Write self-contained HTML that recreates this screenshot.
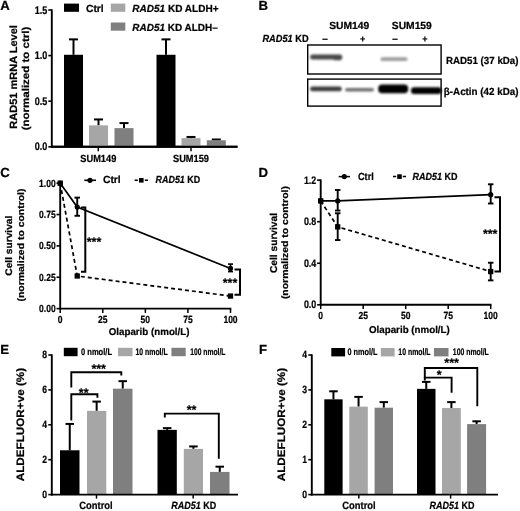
<!DOCTYPE html>
<html lang="en">
<head>
<meta charset="utf-8">
<title>Figure</title>
<style>
html,body{margin:0;padding:0;background:#fff;}
body{width:520px;height:511px;overflow:hidden;}
svg{display:block;}
svg text{font-family:"Liberation Sans", Arial, sans-serif;font-weight:bold;fill:#000;stroke:#000;stroke-width:0.22px;text-rendering:geometricPrecision;}
</style>
</head>
<body>
<svg width="520" height="511" viewBox="0 0 520 511">
<defs><filter id="blur" x="-10%" y="-50%" width="120%" height="200%"><feGaussianBlur stdDeviation="1.0 1.0"/></filter></defs>
<rect x="0" y="0" width="520" height="511" fill="#fff"/>
<text x="0.2" y="9.6" font-size="13.2">A</text>
<text x="258.5" y="9.8" font-size="13.2">B</text>
<text x="0.3" y="176.6" font-size="13.2">C</text>
<text x="258.6" y="176.5" font-size="13.2">D</text>
<text x="0.2" y="353.9" font-size="13.2">E</text>
<text x="258.9" y="353.9" font-size="13.2">F</text>
<line x1="51.8" y1="9.3" x2="51.8" y2="147.75" stroke="#000" stroke-width="1.9"/>
<line x1="51.0" y1="146.8" x2="237.5" y2="146.8" stroke="#000" stroke-width="1.9"/>
<line x1="48.3" y1="10.0" x2="51.8" y2="10.0" stroke="#000" stroke-width="1.6"/>
<text x="0" y="0" transform="translate(47.199999999999996 13.5) scale(0.82 1)" font-size="11.0" text-anchor="end">1.5</text>
<line x1="48.3" y1="55.60000000000001" x2="51.8" y2="55.60000000000001" stroke="#000" stroke-width="1.6"/>
<text x="0" y="0" transform="translate(47.199999999999996 59.10000000000001) scale(0.82 1)" font-size="11.0" text-anchor="end">1.0</text>
<line x1="48.3" y1="101.20000000000002" x2="51.8" y2="101.20000000000002" stroke="#000" stroke-width="1.6"/>
<text x="0" y="0" transform="translate(47.199999999999996 104.70000000000002) scale(0.82 1)" font-size="11.0" text-anchor="end">0.5</text>
<line x1="48.3" y1="146.8" x2="51.8" y2="146.8" stroke="#000" stroke-width="1.6"/>
<text x="0" y="0" transform="translate(47.199999999999996 150.3) scale(0.82 1)" font-size="11.0" text-anchor="end">0.0</text>
<line x1="98.3" y1="146.8" x2="98.3" y2="151.3" stroke="#000" stroke-width="1.5"/>
<line x1="191" y1="146.8" x2="191" y2="151.3" stroke="#000" stroke-width="1.5"/>
<line x1="73.5" y1="54.77920000000002" x2="73.5" y2="39.36640000000001" stroke="#000" stroke-width="2.0"/>
<line x1="69.0" y1="39.36640000000001" x2="78.0" y2="39.36640000000001" stroke="#000" stroke-width="2.0"/>
<rect x="64" y="54.77920000000002" width="19" height="92.0208" fill="#000"/>
<line x1="98.5" y1="125.36800000000001" x2="98.5" y2="119.44000000000001" stroke="#000" stroke-width="2.0"/>
<line x1="94.0" y1="119.44000000000001" x2="103.0" y2="119.44000000000001" stroke="#000" stroke-width="2.0"/>
<rect x="89" y="125.36800000000001" width="19" height="21.432000000000002" fill="#a6a6a6"/>
<line x1="124.0" y1="128.104" x2="124.0" y2="123.08800000000001" stroke="#000" stroke-width="2.0"/>
<line x1="119.5" y1="123.08800000000001" x2="128.5" y2="123.08800000000001" stroke="#000" stroke-width="2.0"/>
<rect x="114.5" y="128.104" width="19.0" height="18.695999999999998" fill="#7f7f7f"/>
<line x1="166.0" y1="54.77920000000002" x2="166.0" y2="39.36640000000001" stroke="#000" stroke-width="2.0"/>
<line x1="161.5" y1="39.36640000000001" x2="170.5" y2="39.36640000000001" stroke="#000" stroke-width="2.0"/>
<rect x="156.5" y="54.77920000000002" width="19.0" height="92.0208" fill="#000"/>
<line x1="191.0" y1="138.13600000000002" x2="191.0" y2="136.9504" stroke="#000" stroke-width="2.0"/>
<line x1="186.5" y1="136.9504" x2="195.5" y2="136.9504" stroke="#000" stroke-width="2.0"/>
<rect x="181.5" y="138.13600000000002" width="19.0" height="8.663999999999987" fill="#a6a6a6"/>
<line x1="216.3" y1="140.23360000000002" x2="216.3" y2="139.50400000000002" stroke="#000" stroke-width="2.0"/>
<line x1="211.8" y1="139.50400000000002" x2="220.8" y2="139.50400000000002" stroke="#000" stroke-width="2.0"/>
<rect x="206.8" y="140.23360000000002" width="19.0" height="6.566399999999987" fill="#7f7f7f"/>
<line x1="51.0" y1="146.8" x2="237.5" y2="146.8" stroke="#000" stroke-width="1.9"/>
<text x="98.3" y="161.7" font-size="10.3" text-anchor="middle" textLength="36" lengthAdjust="spacingAndGlyphs">SUM149</text>
<text x="191" y="161.7" font-size="10.3" text-anchor="middle" textLength="36" lengthAdjust="spacingAndGlyphs">SUM159</text>
<rect x="64" y="3.6" width="15" height="8.2" fill="#000"/>
<text x="86" y="11.6" font-size="10.3">Ctrl</text>
<rect x="110.8" y="3.6" width="14.5" height="8.2" fill="#a6a6a6"/>
<text x="132.3" y="11.6" font-size="10.3" textLength="86.2" lengthAdjust="spacingAndGlyphs"><tspan font-style="italic">RAD51</tspan> KD ALDH+</text>
<rect x="110.8" y="22.5" width="14.5" height="8.2" fill="#7f7f7f"/>
<text x="132.3" y="30.6" font-size="10.3" textLength="85.5" lengthAdjust="spacingAndGlyphs"><tspan font-style="italic">RAD51</tspan> KD ALDH–</text>
<text x="0" y="0" transform="translate(17.0 76.9) rotate(-90)" font-size="10.5" text-anchor="middle" textLength="103.5" lengthAdjust="spacingAndGlyphs">RAD51 mRNA Level</text>
<text x="0" y="0" transform="translate(29.2 78.5) rotate(-90)" font-size="10.0" text-anchor="middle" textLength="103.6" lengthAdjust="spacingAndGlyphs">(normalized to ctrl)</text>
<text x="349.2" y="28.5" font-size="10.3" text-anchor="middle">SUM149</text>
<text x="411.8" y="28.5" font-size="10.3" text-anchor="middle">SUM159</text>
<text x="262.4" y="42.3" font-size="10.3" textLength="46.2" lengthAdjust="spacingAndGlyphs"><tspan font-style="italic">RAD51</tspan> KD</text>
<text x="325" y="42" font-size="10" text-anchor="middle">–</text>
<text x="395" y="42" font-size="10" text-anchor="middle">–</text>
<text x="362.7" y="42.3" font-size="9" text-anchor="middle">+</text>
<text x="425" y="42.3" font-size="9" text-anchor="middle">+</text>
<rect x="307.7" y="45.0" width="133.4" height="29.0" fill="#fff" stroke="#000" stroke-width="1.4"/>
<rect x="307.7" y="79.1" width="133.4" height="27.0" fill="#fff" stroke="#000" stroke-width="1.4"/>
<g filter="url(#blur)">
<rect x="310.2" y="54.6" width="32" height="4.8" rx="2" fill="#484848"/>
<rect x="333" y="55.2" width="9" height="5.0" rx="2" fill="#484848"/>
<rect x="380.5" y="57.3" width="27" height="3.8" rx="2" fill="#9c9c9c"/>
<rect x="310.2" y="86.6" width="31.5" height="4.6" rx="2" fill="#3c3c3c"/>
<rect x="345" y="87.9" width="29" height="3.6" rx="2" fill="#6e6e6e"/>
<rect x="378.2" y="84.6" width="30" height="8.6" rx="4" fill="#000"/>
<rect x="411" y="87.3" width="30.5" height="6.8" rx="3" fill="#000"/>
</g>
<text x="446" y="63.8" font-size="10.3" textLength="72.5" lengthAdjust="spacingAndGlyphs">RAD51 (37 kDa)</text>
<text x="443.8" y="94.8" font-size="10.3" textLength="74.7" lengthAdjust="spacingAndGlyphs">β-Actin (42 kDa)</text>
<line x1="60.2" y1="182.50000000000003" x2="60.2" y2="309.55" stroke="#000" stroke-width="1.9"/>
<line x1="59.400000000000006" y1="308.6" x2="231.3" y2="308.6" stroke="#000" stroke-width="1.9"/>
<line x1="56.5" y1="183.20000000000002" x2="60.2" y2="183.20000000000002" stroke="#000" stroke-width="1.6"/>
<text x="0" y="0" transform="translate(55.7 186.50000000000003) scale(0.82 1)" font-size="10.4" text-anchor="end">1.00</text>
<line x1="56.5" y1="214.55" x2="60.2" y2="214.55" stroke="#000" stroke-width="1.6"/>
<text x="0" y="0" transform="translate(55.7 217.85000000000002) scale(0.82 1)" font-size="10.4" text-anchor="end">0.75</text>
<line x1="56.5" y1="245.90000000000003" x2="60.2" y2="245.90000000000003" stroke="#000" stroke-width="1.6"/>
<text x="0" y="0" transform="translate(55.7 249.20000000000005) scale(0.82 1)" font-size="10.4" text-anchor="end">0.50</text>
<line x1="56.5" y1="277.25" x2="60.2" y2="277.25" stroke="#000" stroke-width="1.6"/>
<text x="0" y="0" transform="translate(55.7 280.55) scale(0.82 1)" font-size="10.4" text-anchor="end">0.25</text>
<line x1="56.5" y1="308.6" x2="60.2" y2="308.6" stroke="#000" stroke-width="1.6"/>
<text x="0" y="0" transform="translate(55.7 311.90000000000003) scale(0.82 1)" font-size="10.4" text-anchor="end">0.00</text>
<line x1="60.2" y1="308.6" x2="60.2" y2="312.90000000000003" stroke="#000" stroke-width="1.5"/>
<text x="0" y="0" transform="translate(60.2 322.6) scale(0.82 1)" font-size="10.4" text-anchor="middle">0</text>
<line x1="102.775" y1="308.6" x2="102.775" y2="312.90000000000003" stroke="#000" stroke-width="1.5"/>
<text x="0" y="0" transform="translate(102.775 322.6) scale(0.82 1)" font-size="10.4" text-anchor="middle">25</text>
<line x1="145.35000000000002" y1="308.6" x2="145.35000000000002" y2="312.90000000000003" stroke="#000" stroke-width="1.5"/>
<text x="0" y="0" transform="translate(145.35000000000002 322.6) scale(0.82 1)" font-size="10.4" text-anchor="middle">50</text>
<line x1="187.925" y1="308.6" x2="187.925" y2="312.90000000000003" stroke="#000" stroke-width="1.5"/>
<text x="0" y="0" transform="translate(187.925 322.6) scale(0.82 1)" font-size="10.4" text-anchor="middle">75</text>
<line x1="230.5" y1="308.6" x2="230.5" y2="312.90000000000003" stroke="#000" stroke-width="1.5"/>
<text x="0" y="0" transform="translate(230.5 322.6) scale(0.82 1)" font-size="10.4" text-anchor="middle">100</text>
<text x="108.7" y="335.2" font-size="9.9" textLength="80.8" lengthAdjust="spacingAndGlyphs">Olaparib (nmol/L)</text>
<text x="0" y="0" transform="translate(12.0 245.7) rotate(-90)" font-size="9.6" text-anchor="middle" textLength="60" lengthAdjust="spacingAndGlyphs">Cell survival</text>
<text x="0" y="0" transform="translate(24.0 245.0) rotate(-90)" font-size="9.3" text-anchor="middle" textLength="113" lengthAdjust="spacingAndGlyphs">(normalized to control)</text>
<line x1="84.3" y1="180.3" x2="96" y2="180.3" stroke="#000" stroke-width="1.6"/>
<circle cx="90" cy="180.3" r="2.6" fill="#000"/>
<text x="103" y="183.4" font-size="10.3">Ctrl</text>
<line x1="134.6" y1="180.3" x2="148" y2="180.3" stroke="#000" stroke-width="1.6" stroke-dasharray="3.2 7.0"/>
<rect x="139.0" y="178.0" width="4.6" height="4.6" fill="#000"/>
<text x="155.6" y="183.4" font-size="10.3" textLength="44.6" lengthAdjust="spacingAndGlyphs"><tspan font-style="italic">RAD51</tspan> KD</text>
<path d="M60.20 183.20 L77.23 207.03 L230.50 268.47" fill="none" stroke="#000" stroke-width="1.7"/>
<path d="M60.20 183.20 L77.23 276.00 L230.50 296.06" fill="none" stroke="#000" stroke-width="1.7" stroke-dasharray="4 3"/>
<line x1="77.23" y1="197.62100000000004" x2="77.23" y2="215.80400000000003" stroke="#000" stroke-width="1.9"/>
<line x1="74.48" y1="197.62100000000004" x2="79.98" y2="197.62100000000004" stroke="#000" stroke-width="1.9"/>
<line x1="74.48" y1="215.80400000000003" x2="79.98" y2="215.80400000000003" stroke="#000" stroke-width="1.9"/>
<line x1="230.5" y1="264.083" x2="230.5" y2="271.607" stroke="#000" stroke-width="1.6"/>
<line x1="228.0" y1="264.083" x2="233.0" y2="264.083" stroke="#000" stroke-width="1.6"/>
<line x1="228.0" y1="271.607" x2="233.0" y2="271.607" stroke="#000" stroke-width="1.6"/>
<circle cx="60.2" cy="183.20000000000002" r="2.6" fill="#000"/>
<circle cx="77.23" cy="207.026" r="2.6" fill="#000"/>
<circle cx="230.5" cy="268.47200000000004" r="2.6" fill="#000"/>
<rect x="57.550000000000004" y="180.55" width="5.3" height="5.3" fill="#000"/>
<rect x="74.58" y="273.34600000000006" width="5.3" height="5.3" fill="#000"/>
<rect x="227.85" y="293.41" width="5.3" height="5.3" fill="#000"/>
<path d="M81 207.5 H85.3 V271.8 H81" fill="none" stroke="#000" stroke-width="2.0"/>
<path d="M234.5 269.6 H240 V294.8 H234.5" fill="none" stroke="#000" stroke-width="2.0"/>
<text x="94.0" y="245.5" font-size="12.5" text-anchor="middle">***</text>
<text x="230" y="287.2" font-size="12.5" text-anchor="middle">***</text>
<line x1="320.7" y1="179.42000000000002" x2="320.7" y2="305.75" stroke="#000" stroke-width="1.9"/>
<line x1="319.9" y1="304.8" x2="491.5" y2="304.8" stroke="#000" stroke-width="1.9"/>
<line x1="317.09999999999997" y1="180.12" x2="320.7" y2="180.12" stroke="#000" stroke-width="1.6"/>
<text x="0" y="0" transform="translate(316.3 183.52) scale(0.82 1)" font-size="10.9" text-anchor="end">1.2</text>
<line x1="317.09999999999997" y1="221.68" x2="320.7" y2="221.68" stroke="#000" stroke-width="1.6"/>
<text x="0" y="0" transform="translate(316.3 225.08) scale(0.82 1)" font-size="10.9" text-anchor="end">0.8</text>
<line x1="317.09999999999997" y1="263.24" x2="320.7" y2="263.24" stroke="#000" stroke-width="1.6"/>
<text x="0" y="0" transform="translate(316.3 266.64) scale(0.82 1)" font-size="10.9" text-anchor="end">0.4</text>
<line x1="317.09999999999997" y1="304.8" x2="320.7" y2="304.8" stroke="#000" stroke-width="1.6"/>
<text x="0" y="0" transform="translate(316.3 308.2) scale(0.82 1)" font-size="10.9" text-anchor="end">0.0</text>
<line x1="320.7" y1="304.8" x2="320.7" y2="309.1" stroke="#000" stroke-width="1.5"/>
<text x="0" y="0" transform="translate(320.7 319.1) scale(0.82 1)" font-size="10.4" text-anchor="middle">0</text>
<line x1="363.2" y1="304.8" x2="363.2" y2="309.1" stroke="#000" stroke-width="1.5"/>
<text x="0" y="0" transform="translate(363.2 319.1) scale(0.82 1)" font-size="10.4" text-anchor="middle">25</text>
<line x1="405.7" y1="304.8" x2="405.7" y2="309.1" stroke="#000" stroke-width="1.5"/>
<text x="0" y="0" transform="translate(405.7 319.1) scale(0.82 1)" font-size="10.4" text-anchor="middle">50</text>
<line x1="448.2" y1="304.8" x2="448.2" y2="309.1" stroke="#000" stroke-width="1.5"/>
<text x="0" y="0" transform="translate(448.2 319.1) scale(0.82 1)" font-size="10.4" text-anchor="middle">75</text>
<line x1="490.7" y1="304.8" x2="490.7" y2="309.1" stroke="#000" stroke-width="1.5"/>
<text x="0" y="0" transform="translate(490.7 319.1) scale(0.82 1)" font-size="10.4" text-anchor="middle">100</text>
<text x="369.0" y="332.5" font-size="9.9" textLength="80.8" lengthAdjust="spacingAndGlyphs">Olaparib (nmol/L)</text>
<text x="0" y="0" transform="translate(277.1 243) rotate(-90)" font-size="10.0" text-anchor="middle" textLength="60" lengthAdjust="spacingAndGlyphs">Cell survival</text>
<text x="0" y="0" transform="translate(288.3 242.6) rotate(-90)" font-size="9.3" text-anchor="middle" textLength="113" lengthAdjust="spacingAndGlyphs">(normalized to control)</text>
<line x1="338.7" y1="176.6" x2="350" y2="176.6" stroke="#000" stroke-width="1.5"/>
<circle cx="344.3" cy="176.6" r="2.6" fill="#000"/>
<text x="358" y="180.2" font-size="10.3" textLength="15.8" lengthAdjust="spacingAndGlyphs">Ctrl</text>
<line x1="393" y1="176.6" x2="406" y2="176.6" stroke="#000" stroke-width="1.5" stroke-dasharray="3.2 6.6"/>
<rect x="397.2" y="174.29999999999998" width="4.6" height="4.6" fill="#000"/>
<text x="412.5" y="180" font-size="10.3" textLength="45" lengthAdjust="spacingAndGlyphs"><tspan font-style="italic">RAD51</tspan> KD</text>
<path d="M320.70 200.90 L337.70 200.90 L490.70 194.67" fill="none" stroke="#000" stroke-width="1.7"/>
<path d="M320.70 200.90 L337.70 226.88 L490.70 271.55" fill="none" stroke="#000" stroke-width="1.7" stroke-dasharray="4 3"/>
<line x1="337.7" y1="189.9905" x2="337.7" y2="210.5627" stroke="#000" stroke-width="1.9"/>
<line x1="334.95" y1="189.9905" x2="340.45" y2="189.9905" stroke="#000" stroke-width="1.9"/>
<line x1="334.95" y1="210.5627" x2="340.45" y2="210.5627" stroke="#000" stroke-width="1.9"/>
<line x1="337.7" y1="213.26409999999998" x2="337.7" y2="240.0703" stroke="#000" stroke-width="1.9"/>
<line x1="334.95" y1="213.26409999999998" x2="340.45" y2="213.26409999999998" stroke="#000" stroke-width="1.9"/>
<line x1="334.95" y1="240.0703" x2="340.45" y2="240.0703" stroke="#000" stroke-width="1.9"/>
<line x1="490.7" y1="184.276" x2="490.7" y2="203.4975" stroke="#000" stroke-width="1.9"/>
<line x1="487.95" y1="184.276" x2="493.45" y2="184.276" stroke="#000" stroke-width="1.9"/>
<line x1="487.95" y1="203.4975" x2="493.45" y2="203.4975" stroke="#000" stroke-width="1.9"/>
<line x1="490.7" y1="262.7205" x2="490.7" y2="280.3835" stroke="#000" stroke-width="1.9"/>
<line x1="487.95" y1="262.7205" x2="493.45" y2="262.7205" stroke="#000" stroke-width="1.9"/>
<line x1="487.95" y1="280.3835" x2="493.45" y2="280.3835" stroke="#000" stroke-width="1.9"/>
<circle cx="320.7" cy="200.9" r="2.6" fill="#000"/>
<circle cx="337.7" cy="200.9" r="2.6" fill="#000"/>
<circle cx="490.7" cy="194.666" r="2.6" fill="#000"/>
<rect x="318.05" y="198.25" width="5.3" height="5.3" fill="#000"/>
<rect x="335.05" y="224.225" width="5.3" height="5.3" fill="#000"/>
<rect x="488.05" y="268.90200000000004" width="5.3" height="5.3" fill="#000"/>
<path d="M494.5 197.2 H500 V271.4 H494.5" fill="none" stroke="#000" stroke-width="2.0"/>
<text x="490.2" y="238.0" font-size="12.5" text-anchor="middle">***</text>
<line x1="51.8" y1="354.3" x2="51.8" y2="495.55" stroke="#000" stroke-width="1.9"/>
<line x1="48.3" y1="355.0" x2="51.8" y2="355.0" stroke="#000" stroke-width="1.6"/>
<text x="0" y="0" transform="translate(47.0 358.3) scale(0.82 1)" font-size="10.5" text-anchor="end">8</text>
<line x1="48.3" y1="389.90000000000003" x2="51.8" y2="389.90000000000003" stroke="#000" stroke-width="1.6"/>
<text x="0" y="0" transform="translate(47.0 393.20000000000005) scale(0.82 1)" font-size="10.5" text-anchor="end">6</text>
<line x1="48.3" y1="424.8" x2="51.8" y2="424.8" stroke="#000" stroke-width="1.6"/>
<text x="0" y="0" transform="translate(47.0 428.1) scale(0.82 1)" font-size="10.5" text-anchor="end">4</text>
<line x1="48.3" y1="459.70000000000005" x2="51.8" y2="459.70000000000005" stroke="#000" stroke-width="1.6"/>
<text x="0" y="0" transform="translate(47.0 463.00000000000006) scale(0.82 1)" font-size="10.5" text-anchor="end">2</text>
<line x1="48.3" y1="494.6" x2="51.8" y2="494.6" stroke="#000" stroke-width="1.6"/>
<text x="0" y="0" transform="translate(47.0 497.90000000000003) scale(0.82 1)" font-size="10.5" text-anchor="end">0</text>
<line x1="96.5" y1="494.6" x2="96.5" y2="498.6" stroke="#000" stroke-width="1.5"/>
<line x1="193.2" y1="494.6" x2="193.2" y2="498.6" stroke="#000" stroke-width="1.5"/>
<line x1="69.75" y1="450.27700000000004" x2="69.75" y2="423.9275" stroke="#000" stroke-width="2.0"/>
<line x1="65.5" y1="423.9275" x2="74.0" y2="423.9275" stroke="#000" stroke-width="2.0"/>
<rect x="60" y="450.27700000000004" width="19.5" height="44.32299999999998" fill="#000"/>
<line x1="96.65" y1="410.84000000000003" x2="96.65" y2="401.5915" stroke="#000" stroke-width="2.0"/>
<line x1="92.4" y1="401.5915" x2="100.9" y2="401.5915" stroke="#000" stroke-width="2.0"/>
<rect x="87" y="410.84000000000003" width="19.299999999999997" height="83.75999999999999" fill="#a6a6a6"/>
<line x1="122.75" y1="388.67850000000004" x2="122.75" y2="381.175" stroke="#000" stroke-width="2.0"/>
<line x1="118.5" y1="381.175" x2="127.0" y2="381.175" stroke="#000" stroke-width="2.0"/>
<rect x="113" y="388.67850000000004" width="19.5" height="105.92149999999998" fill="#7f7f7f"/>
<line x1="167.15" y1="429.8605" x2="167.15" y2="428.1155" stroke="#000" stroke-width="2.0"/>
<line x1="162.9" y1="428.1155" x2="171.4" y2="428.1155" stroke="#000" stroke-width="2.0"/>
<rect x="157.5" y="429.8605" width="19.30000000000001" height="64.73950000000002" fill="#000"/>
<line x1="193.4" y1="448.88100000000003" x2="193.4" y2="446.43800000000005" stroke="#000" stroke-width="2.0"/>
<line x1="189.15" y1="446.43800000000005" x2="197.65" y2="446.43800000000005" stroke="#000" stroke-width="2.0"/>
<rect x="183.8" y="448.88100000000003" width="19.19999999999999" height="45.718999999999994" fill="#a6a6a6"/>
<line x1="219.75" y1="471.915" x2="219.75" y2="466.68" stroke="#000" stroke-width="2.0"/>
<line x1="215.5" y1="466.68" x2="224.0" y2="466.68" stroke="#000" stroke-width="2.0"/>
<rect x="210" y="471.915" width="19.5" height="22.685000000000002" fill="#7f7f7f"/>
<line x1="51.0" y1="494.6" x2="238" y2="494.6" stroke="#000" stroke-width="1.9"/>
<text x="96.0" y="509.4" font-size="10.5" text-anchor="middle" textLength="33.4" lengthAdjust="spacingAndGlyphs">Control</text>
<text x="193.8" y="509.4" font-size="10.5" text-anchor="middle" textLength="45" lengthAdjust="spacingAndGlyphs"><tspan font-style="italic">RAD51</tspan> KD</text>
<rect x="63.8" y="347.8" width="13.8" height="8.4" fill="#000"/>
<text x="81" y="355.4" font-size="9.5" textLength="31" lengthAdjust="spacingAndGlyphs">0 nmol/L</text>
<rect x="118" y="347.8" width="14.5" height="8.4" fill="#a6a6a6"/>
<text x="135.4" y="355.4" font-size="9.5" textLength="32.3" lengthAdjust="spacingAndGlyphs">10 nmol/L</text>
<rect x="171.4" y="347.8" width="14.3" height="8.4" fill="#7f7f7f"/>
<text x="190.2" y="355.4" font-size="9.5" textLength="35.2" lengthAdjust="spacingAndGlyphs">100 nmol/L</text>
<text x="0" y="0" transform="translate(24.4 424.6) rotate(-90)" font-size="10.8" text-anchor="middle" textLength="113.3" lengthAdjust="spacingAndGlyphs">ALDEFLUOR+ve (%)</text>
<path d="M71.3 387.5 V372.2 H121.3 V375.5" fill="none" stroke="#000" stroke-width="1.9"/>
<path d="M71.3 420.5 V394.2 H97.4 V397.8" fill="none" stroke="#000" stroke-width="1.9"/>
<path d="M164.8 417.5 V413.6 H218.8 V458.8" fill="none" stroke="#000" stroke-width="1.9"/>
<text x="98.7" y="373.3" font-size="12.5" text-anchor="middle">***</text>
<text x="83.7" y="396.5" font-size="12.5" text-anchor="middle">**</text>
<text x="191.6" y="414.4" font-size="12.5" text-anchor="middle">**</text>
<line x1="311.8" y1="354.3" x2="311.8" y2="495.55" stroke="#000" stroke-width="1.9"/>
<line x1="308.3" y1="355.0" x2="311.8" y2="355.0" stroke="#000" stroke-width="1.6"/>
<text x="0" y="0" transform="translate(307.0 358.3) scale(0.82 1)" font-size="10.5" text-anchor="end">4</text>
<line x1="308.3" y1="389.90000000000003" x2="311.8" y2="389.90000000000003" stroke="#000" stroke-width="1.6"/>
<text x="0" y="0" transform="translate(307.0 393.20000000000005) scale(0.82 1)" font-size="10.5" text-anchor="end">3</text>
<line x1="308.3" y1="424.8" x2="311.8" y2="424.8" stroke="#000" stroke-width="1.6"/>
<text x="0" y="0" transform="translate(307.0 428.1) scale(0.82 1)" font-size="10.5" text-anchor="end">2</text>
<line x1="308.3" y1="459.70000000000005" x2="311.8" y2="459.70000000000005" stroke="#000" stroke-width="1.6"/>
<text x="0" y="0" transform="translate(307.0 463.00000000000006) scale(0.82 1)" font-size="10.5" text-anchor="end">1</text>
<line x1="308.3" y1="494.6" x2="311.8" y2="494.6" stroke="#000" stroke-width="1.6"/>
<text x="0" y="0" transform="translate(307.0 497.90000000000003) scale(0.82 1)" font-size="10.5" text-anchor="end">0</text>
<line x1="358.8" y1="494.6" x2="358.8" y2="498.6" stroke="#000" stroke-width="1.5"/>
<line x1="450.6" y1="494.6" x2="450.6" y2="498.6" stroke="#000" stroke-width="1.5"/>
<line x1="333.45000000000005" y1="399.32300000000004" x2="333.45000000000005" y2="391.29600000000005" stroke="#000" stroke-width="2.0"/>
<line x1="329.20000000000005" y1="391.29600000000005" x2="337.70000000000005" y2="391.29600000000005" stroke="#000" stroke-width="2.0"/>
<rect x="324.3" y="399.32300000000004" width="18.30000000000001" height="95.27699999999999" fill="#000"/>
<line x1="358.55" y1="406.65200000000004" x2="358.55" y2="396.88000000000005" stroke="#000" stroke-width="2.0"/>
<line x1="354.3" y1="396.88000000000005" x2="362.8" y2="396.88000000000005" stroke="#000" stroke-width="2.0"/>
<rect x="349.3" y="406.65200000000004" width="18.5" height="87.94799999999998" fill="#a6a6a6"/>
<line x1="383.8" y1="407.699" x2="383.8" y2="402.115" stroke="#000" stroke-width="2.0"/>
<line x1="379.55" y1="402.115" x2="388.05" y2="402.115" stroke="#000" stroke-width="2.0"/>
<rect x="374.6" y="407.699" width="18.399999999999977" height="86.90100000000001" fill="#7f7f7f"/>
<line x1="426.25" y1="388.85300000000007" x2="426.25" y2="381.87300000000005" stroke="#000" stroke-width="2.0"/>
<line x1="422.0" y1="381.87300000000005" x2="430.5" y2="381.87300000000005" stroke="#000" stroke-width="2.0"/>
<rect x="417" y="388.85300000000007" width="18.5" height="105.74699999999996" fill="#000"/>
<line x1="451.4" y1="408.048" x2="451.4" y2="402.115" stroke="#000" stroke-width="2.0"/>
<line x1="447.15" y1="402.115" x2="455.65" y2="402.115" stroke="#000" stroke-width="2.0"/>
<rect x="442" y="408.048" width="18.80000000000001" height="86.55200000000002" fill="#a6a6a6"/>
<line x1="476.6" y1="424.10200000000003" x2="476.6" y2="421.31" stroke="#000" stroke-width="2.0"/>
<line x1="472.35" y1="421.31" x2="480.85" y2="421.31" stroke="#000" stroke-width="2.0"/>
<rect x="467.1" y="424.10200000000003" width="19.0" height="70.49799999999999" fill="#7f7f7f"/>
<line x1="311.0" y1="494.6" x2="498" y2="494.6" stroke="#000" stroke-width="1.9"/>
<text x="359" y="509.4" font-size="10.5" text-anchor="middle" textLength="33.4" lengthAdjust="spacingAndGlyphs">Control</text>
<text x="452" y="509.4" font-size="10.5" text-anchor="middle" textLength="45" lengthAdjust="spacingAndGlyphs"><tspan font-style="italic">RAD51</tspan> KD</text>
<rect x="331.3" y="348" width="13.8" height="8.4" fill="#000"/>
<text x="347.5" y="355" font-size="9.5" textLength="30" lengthAdjust="spacingAndGlyphs">0 nmol/L</text>
<rect x="380.8" y="348" width="13.8" height="8.4" fill="#a6a6a6"/>
<text x="398.3" y="355" font-size="9.5" textLength="32.3" lengthAdjust="spacingAndGlyphs">10 nmol/L</text>
<rect x="434" y="348" width="14.5" height="8.4" fill="#7f7f7f"/>
<text x="452.8" y="355" font-size="9.5" textLength="36" lengthAdjust="spacingAndGlyphs">100 nmol/L</text>
<text x="0" y="0" transform="translate(284.7 424.6) rotate(-90)" font-size="10.8" text-anchor="middle" textLength="113.3" lengthAdjust="spacingAndGlyphs">ALDEFLUOR+ve (%)</text>
<path d="M424.8 378 V368 H477.3 V406.3" fill="none" stroke="#000" stroke-width="1.9"/>
<path d="M424.8 380.5 V377.6 H451.6 V392.8" fill="none" stroke="#000" stroke-width="1.9"/>
<text x="451.6" y="367.2" font-size="12.5" text-anchor="middle">***</text>
<text x="439.2" y="379.4" font-size="12.5" text-anchor="middle">*</text>
</svg>
</body>
</html>
